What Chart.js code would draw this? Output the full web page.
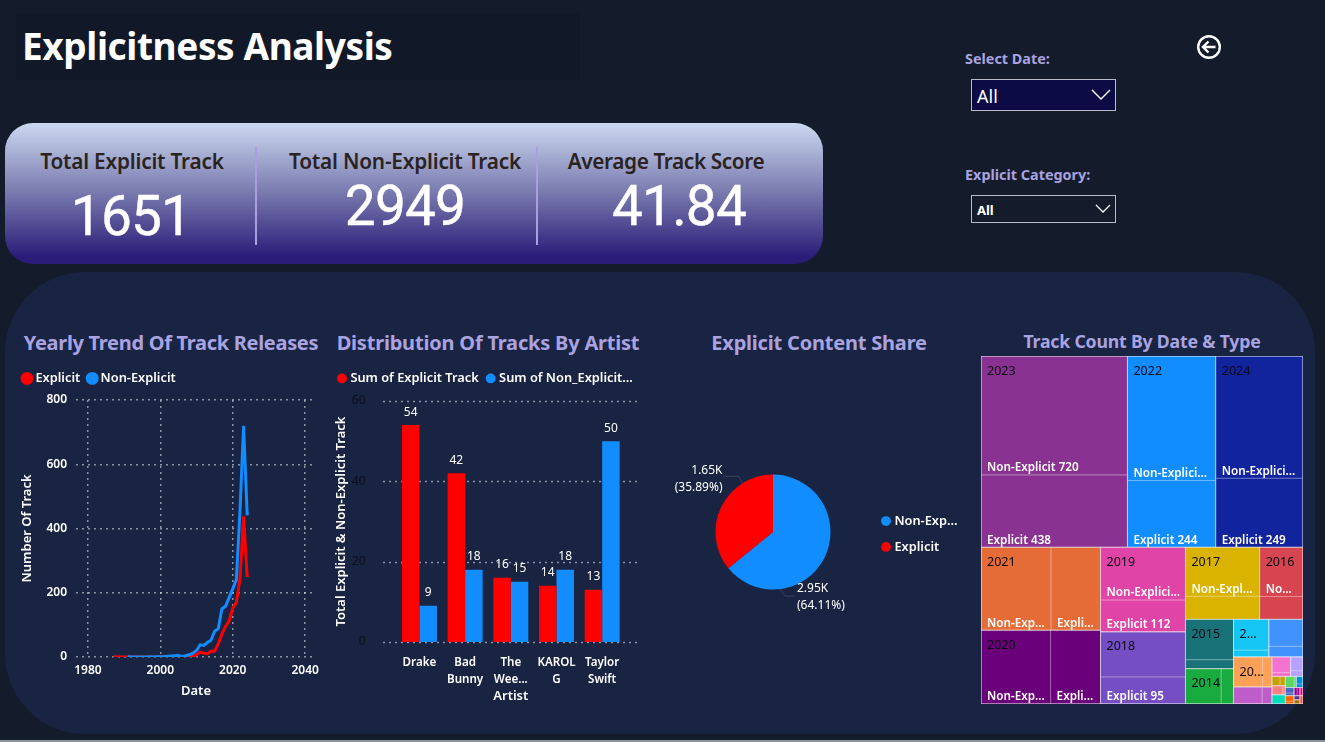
<!DOCTYPE html>
<html>
<head>
<meta charset="utf-8">
<title>Explicitness Analysis</title>
<script src="https://cdn.jsdelivr.net/npm/chart.js@4"></script>
<style>
    html, body { margin: 0; padding: 0; }
    body { width: 1325px; height: 742px; background: #141b2a; overflow: hidden; position: relative; font-family: 'Noto Sans', sans-serif; }
    .abs { position: absolute; }
    canvas.abs { display: block; }
    #titleBox { left: 16px; top: 13px; width: 564px; height: 67px; background: #111827; }
    #mainTitle { left: 22px; top: 21px; font: 700 37px/50px 'Noto Sans', sans-serif; color: #fff; white-space: nowrap; letter-spacing: -0.4px; }
    #kpiCard { left: 5px; top: 123px; width: 818px; height: 141px; border-radius: 28px; background: linear-gradient(#ccd9f0 0%, #7b7cb0 48%, #2a1c78 95%); }
    .sep { width: 2px; top: 147px; height: 98px; background: #a99fe0; }
    .kpiLabel { top: 147px; width: 300px; text-align: center; font: 600 20.8px/28px 'Noto Sans', sans-serif; color: #2a2322; white-space: nowrap; letter-spacing: -0.2px; }
    .kpiValue { width: 200px; text-align: center; font: 400 55px/60px Roboto, sans-serif; color: #fff; letter-spacing: -0.8px; -webkit-text-stroke: 0.4px #fff; }
    #panel { left: 5px; top: 272px; width: 1310px; height: 462px; border-radius: 80px; background: #192443; }
    #bottomEdge { left: 0; top: 740px; width: 1325px; height: 2px; background: #8f949c; }
    .heading { top: 328px; width: 340px; text-align: center; font: 700 20px/30px 'Noto Sans', sans-serif; color: #a9a3e0; white-space: nowrap; letter-spacing: -0.2px; }
    .slicerLabel { left: 965px; font: 700 14.4px/20px 'Noto Sans', sans-serif; color: #a9a3e0; white-space: nowrap; }
    .slicer { left: 971px; width: 143px; border: 1px solid #b9bcc6; color: #fff; }
    .slicer span { position: absolute; left: 5px; }
    .slicer svg { position: absolute; right: 4px; }
</style>
</head>
<body>
<div class="abs" id="titleBox"></div>
<div class="abs" id="mainTitle">Explicitness Analysis</div>

<div class="abs" id="kpiCard"></div>
<div class="abs sep" style="left:255px"></div>
<div class="abs sep" style="left:536px"></div>
<div class="abs kpiLabel" style="left:-18px">Total Explicit Track</div>
<div class="abs kpiLabel" style="left:255px">Total Non-Explicit Track</div>
<div class="abs kpiLabel" style="left:516px;letter-spacing:-0.4px">Average Track Score</div>
<div class="abs kpiValue" style="left:31px;top:186px">1651</div>
<div class="abs kpiValue" style="left:305px;top:176px">2949</div>
<div class="abs kpiValue" style="left:579px;top:176px">41.84</div>

<div class="abs slicerLabel" style="top:49px">Select Date:</div>
<div class="abs slicer" style="top:79px;height:30px;background:#0c0b45">
    <span style="font:400 18px/33px 'Noto Sans',sans-serif">All</span>
    <svg width="20" height="12" viewBox="0 0 20 12" style="top:9px"><path d="M1 1 L10 10 L19 1" fill="none" stroke="#fff" stroke-width="1.4"/></svg>
</div>
<div class="abs slicerLabel" style="top:165px">Explicit Category:</div>
<div class="abs slicer" style="top:195px;height:26px">
    <span style="font:700 13px/29px 'Noto Sans',sans-serif">All</span>
    <svg width="16" height="10" viewBox="0 0 16 10" style="top:8px;right:4px"><path d="M1 1 L8 8 L15 1" fill="none" stroke="#fff" stroke-width="1.3"/></svg>
</div>
<svg class="abs" style="left:1196px;top:34px" width="26" height="26" viewBox="0 0 26 26">
    <circle cx="13" cy="13" r="10.8" fill="none" stroke="#fff" stroke-width="2.4"/>
    <path d="M19.5 13 H7.5 M12.5 7.5 L7 13 L12.5 18.5" fill="none" stroke="#fff" stroke-width="2.4"/>
</svg>

<div class="abs" id="panel"></div>
<div class="abs" id="bottomEdge"></div>
<div class="abs heading" style="left:1px;letter-spacing:-0.3px">Yearly Trend Of Track Releases</div>
<div class="abs heading" style="left:318px">Distribution Of Tracks By Artist</div>
<div class="abs heading" style="left:649px">Explicit Content Share</div>
<div class="abs heading" style="left:972px;top:326px;font-size:17.7px">Track Count By Date &amp; Type</div>

<canvas class="abs" id="trendChart" width="315" height="343" style="left:15px;top:362px"></canvas>
<canvas class="abs" id="artistChart" width="329" height="343" style="left:330px;top:362px"></canvas>
<canvas class="abs" id="shareChart" width="303" height="304" style="left:668px;top:380px"></canvas>
<canvas class="abs" id="treeChart" width="322" height="348" style="left:981px;top:356px"></canvas>

<script>
const years = [1987, 1988, 1989, 1990, 1991, 1992, 1993, 1994, 1995, 1996, 1997, 1998, 1999, 2000, 2001, 2002, 2003, 2004, 2005, 2006, 2007, 2008, 2009, 2010, 2011, 2012, 2013, 2014, 2015, 2016, 2017, 2018, 2019, 2020, 2021, 2022, 2023, 2024];
const explicitByYear = [1, 0, 0, 0, 0, 0, 0, 0, 0, 0, 0, 0, 0, 1, 2, 1, 2, 1, 0, 1, 1, 3, 3, 7, 15, 12, 10, 18, 18, 41, 71, 95, 112, 152, 170, 244, 438, 249];
const nonExplicitByYear = [null, null, null, null, 1, 0, 0, 0, 0, 0, 1, 0, 1, 1, 1, 2, 3, 4, 5, 2, 4, 7, 12, 20, 38, 36, 45, 52, 80, 88, 150, 158, 185, 212, 240, 454, 720, 441];
const trendTicksX = [1980, 2000, 2020, 2040];

// Top artists
const artists = [['Drake'], ['Bad', 'Bunny'], ['The', 'Wee...'], ['KAROL', 'G'], ['Taylor', 'Swift']];
const artistExplicit = [54, 42, 16, 14, 13];
const artistNonExplicit = [9, 18, 15, 18, 50];

// Share
const shareLabels = ['Non-Exp...', 'Explicit'];
const shareValues = [2949, 1651];

// Treemap colours in rank order
const treePalette = ['#8A3291', '#118DFF', '#12239E', '#E66C37', '#6B007B', '#E044A7', '#744EC2', '#D9B300', '#D64550', '#197278', '#1AAB40', '#15C6F4', '#4092FF', '#FFA058', '#BE5DC9', '#F472D0', '#B5A1FF', '#C4A200', '#FF8080', '#00DBBC', '#5BD667', '#0091D5', '#4668C5', '#FF6300', '#99008A', '#EC008C', '#533285', '#99700A', '#FF4141'];

const RED = '#FF0000';
const BLUE = '#118DFF';
const GRID = 'rgba(255, 255, 255, 0.5)';
const FONT = "'Noto Sans', sans-serif";

Chart.defaults.font.family = FONT;
Chart.defaults.color = '#ffffff';
Chart.defaults.animation = false;
Chart.defaults.responsive = false;
Chart.defaults.devicePixelRatio = 1;
Chart.defaults.plugins.tooltip.enabled = false;

/**
 * Fix the legend box size so the plot areas land where they should
 */
const legendSize = {
    id: 'legendSize',
    beforeInit(chart, args, opts) {
        const fit = chart.legend.fit;
        chart.legend.fit = function() {
            fit.call(this);
            if (opts.height) this.height = opts.height;
            if (opts.width) this.width = opts.width;
        };
    },
    afterLayout(chart, args, opts) {
        if (opts.shiftY) {
            chart.legend.top += opts.shiftY;
            chart.legend.bottom += opts.shiftY;
        }
    }
};

function legendOptions(position, padding) {
    return {
        position: position,
        align: 'start',
        labels: {
            usePointStyle: true,
            pointStyle: 'circle',
            boxWidth: 4,
            boxHeight: 7,
            padding: padding,
            color: '#ffffff',
            font: { size: 12.8, weight: 600 }
        }
    };
}

/**
 * Line chart: releases per year
 */
new Chart(document.getElementById('trendChart'), {
    type: 'line',
    plugins: [legendSize],
    data: {
        labels: years,
        datasets: [
            { label: 'Non-Explicit', data: years.map((y, i) => ({ x: y, y: nonExplicitByYear[i] })), borderColor: BLUE, backgroundColor: BLUE, borderWidth: 3, pointRadius: 0 },
            { label: 'Explicit', data: years.map((y, i) => ({ x: y, y: explicitByYear[i] })), borderColor: RED, backgroundColor: RED, borderWidth: 3, pointRadius: 0 }
        ]
    },
    options: {
        layout: { padding: { right: 14 } },
        plugins: {
            legendSize: { height: 38 },
            legend: { ...legendOptions('top', 10), labels: { ...legendOptions('top', 10).labels, sort: (a, b) => b.datasetIndex - a.datasetIndex } }
        },
        scales: {
            x: {
                type: 'linear',
                min: 1976.7,
                max: 2043,
                afterBuildTicks: scale => { scale.ticks = trendTicksX.map(v => ({ value: v })); },
                afterFit: scale => { scale.height = 48; },
                grid: { color: GRID, lineWidth: 1.5, drawTicks: false },
                border: { display: false, dash: [2, 4] },
                ticks: { color: '#ffffff', padding: 6, maxRotation: 0, callback: v => String(v), font: { size: 12, weight: 600 } },
                title: { display: true, text: 'Date', color: '#ffffff', font: { size: 13, weight: 600 }, padding: { top: 0, bottom: 6 } }
            },
            y: {
                min: 0,
                max: 800,
                afterFit: scale => { scale.width = 61; },
                grid: { color: GRID, lineWidth: 1.5, drawTicks: false },
                border: { display: false, dash: [2, 4] },
                ticks: { color: '#ffffff', padding: 9, stepSize: 200, font: { size: 12, weight: 600 } },
                title: { display: true, text: 'Number Of Track', color: '#ffffff', font: { size: 13, weight: 600 }, padding: { top: 4, bottom: 0 } }
            }
        }
    }
});

/**
 * Extend the horizontal grid past the bars, and print the bar values
 */
const barExtras = {
    id: 'barExtras',
    beforeDatasetsDraw(chart) {
        const { ctx, chartArea, scales: { y } } = chart;
        ctx.save();
        ctx.strokeStyle = GRID;
        ctx.lineWidth = 1.5;
        ctx.setLineDash([2, 4]);
        y.ticks.forEach(t => {
            const py = Math.round(y.getPixelForValue(t.value)) + 0.5;
            ctx.beginPath();
            ctx.moveTo(chartArea.left - 13.6, py);
            ctx.lineTo(chartArea.right + 13, py);
            ctx.stroke();
        });
        ctx.restore();
    },
    afterDatasetsDraw(chart) {
        const { ctx } = chart;
        ctx.save();
        ctx.fillStyle = '#ffffff';
        ctx.font = '400 12px ' + FONT;
        ctx.textAlign = 'center';
        ctx.textBaseline = 'middle';
        chart.data.datasets.forEach((ds, i) => {
            chart.getDatasetMeta(i).data.forEach((bar, j) => {
                ctx.fillText(ds.data[j], bar.x, bar.y - 13);
            });
        });
        ctx.restore();
    }
};

/**
 * Clustered bars: top artists
 */
new Chart(document.getElementById('artistChart'), {
    type: 'bar',
    plugins: [legendSize, barExtras],
    data: {
        labels: artists,
        datasets: [
            { label: 'Sum of Explicit Track', data: artistExplicit, backgroundColor: RED },
            { label: 'Sum of Non_Explicit...', data: artistNonExplicit, backgroundColor: BLUE }
        ]
    },
    options: {
        plugins: {
            legendSize: { height: 39 },
            legend: legendOptions('top', 10)
        },
        datasets: { bar: { categoryPercentage: 0.766, barPercentage: 1 } },
        scales: {
            x: {
                afterFit: scale => { scale.height = 63; },
                grid: { display: false },
                border: { display: false },
                ticks: { color: '#ffffff', padding: 4, autoSkip: false, maxRotation: 0, font: { size: 11.6, weight: 600, lineHeight: 1.45 } },
                title: { display: true, text: 'Artist', color: '#ffffff', font: { size: 13, weight: 600 }, padding: { top: 0, bottom: 1 } }
            },
            y: {
                min: 0,
                max: 60,
                afterFit: scale => { scale.width = 66.6; },
                grid: { display: false },
                border: { display: false },
                ticks: { color: '#0b0f1a', padding: 23, stepSize: 20, font: { size: 12 } },
                title: { display: true, text: 'Total Explicit & Non-Explicit Track', color: '#ffffff', font: { size: 13, weight: 600 }, padding: { top: 3, bottom: 0 } }
            },
            // empty axis: keeps the room right of the bars while the legend may use it
            spacer: {
                position: 'right',
                afterFit: scale => { scale.width = 34; },
                grid: { display: false },
                border: { display: false },
                ticks: { display: false }
            }
        }
    }
});

/**
 * Callouts of the pie, with their leader lines
 */
const pieCallouts = {
    id: 'pieCallouts',
    afterDatasetsDraw(chart) {
        const { ctx } = chart;
        const arcs = chart.getDatasetMeta(0).data;
        const total = shareValues.reduce((a, b) => a + b, 0);
        ctx.save();
        ctx.font = '400 12px ' + FONT;
        ctx.fillStyle = '#ffffff';
        ctx.textBaseline = 'middle';
        ctx.strokeStyle = '#3d4459';
        ctx.lineWidth = 1;
        shareValues.forEach((v, i) => {
            const arc = arcs[i];
            const big = (v / 1000).toFixed(2) + 'K';
            const pct = '(' + (v / total * 100).toFixed(2) + '%)';
            const right = i === 0;
            // leaders leave the slice near the bottom for the first, near the top for the second
            const angle = (right ? 173 : 328) * Math.PI / 180;
            const ax = arc.x + Math.sin(angle) * arc.outerRadius;
            const ay = arc.y - Math.cos(angle) * arc.outerRadius;
            const ky = ay + (right ? 7 : -7);
            const kx = ax + (right ? 5 : -4);
            const ex = kx + (right ? 10 : -15);
            ctx.beginPath();
            ctx.moveTo(ax, ay);
            ctx.lineTo(kx, ky);
            ctx.lineTo(ex, ky);
            ctx.stroke();
            ctx.textAlign = right ? 'left' : 'right';
            const tx = ex + (right ? 2 : -1);
            ctx.fillText(big, tx, ky + (right ? -7 : -6));
            ctx.fillText(pct, tx, ky + (right ? 10 : 11));
        });
        ctx.restore();
    }
};

/**
 * Pie: explicit share
 */
new Chart(document.getElementById('shareChart'), {
    type: 'pie',
    plugins: [legendSize, pieCallouts],
    data: {
        labels: shareLabels,
        datasets: [{ data: shareValues, backgroundColor: [BLUE, RED], borderWidth: 0, radius: 57.5 }]
    },
    options: {
        layout: { padding: { left: 7 } },
        plugins: {
            legendSize: { width: 100, shiftY: 2 },
            legend: { ...legendOptions('right', 13), align: 'center' }
        }
    }
});

/**
 * Squarified layout with the golden ratio as target, like Power BI seems to use;
 * items must come sorted by value, rect is in scale units
 */
function squarify(items, rect) {
    const out = [];
    let { x, y, w, h } = rect;
    let remaining = items.reduce((a, it) => a + it.value, 0);
    const ratio = (1 + Math.sqrt(5)) / 2;
    let i = 0;
    while (i < items.length) {
        const alpha = Math.max(h / w, w / h) / (remaining * ratio);
        const score = (sum, lo, hi) => {
            const beta = sum * sum * alpha;
            return Math.max(hi / beta, beta / lo);
        };
        let end = i + 1;
        let sum = items[i].value;
        let lo = sum;
        let hi = sum;
        let best = score(sum, lo, hi);
        while (end < items.length) {
            const v = items[end].value;
            const next = score(sum + v, Math.min(lo, v), Math.max(hi, v));
            if (next > best) break;
            best = next;
            sum += v;
            lo = Math.min(lo, v);
            hi = Math.max(hi, v);
            end++;
        }
        const row = items.slice(i, end);
        if (w < h) {
            const rowH = h * sum / remaining;
            let cx = x;
            row.forEach(it => { const cw = w * it.value / sum; out.push({ item: it, x: cx, y: y, w: cw, h: rowH }); cx += cw; });
            y += rowH;
            h -= rowH;
        } else {
            const rowW = w * sum / remaining;
            let cy = y;
            row.forEach(it => { const ch = h * it.value / sum; out.push({ item: it, x: x, y: cy, w: rowW, h: ch }); cy += ch; });
            x += rowW;
            w -= rowW;
        }
        remaining -= sum;
        i = end;
    }
    return out;
}

function fitLabel(ctx, text, maxWidth) {
    if (ctx.measureText(text).width <= maxWidth) return text;
    let n = text.length - 1;
    while (n > 0 && ctx.measureText(text.slice(0, n) + '...').width > maxWidth) n--;
    return text.slice(0, n) + '...';
}

/**
 * Treemap: no treemap element in Chart.js core, so cells are painted here through the chart's scales
 */
const treemap = {
    id: 'treemap',
    afterDatasetsDraw(chart) {
        const { ctx, scales: { x, y } } = chart;
        const groups = years
            .map((year, i) => ({ year: year, non: nonExplicitByYear[i] || 0, exp: explicitByYear[i] || 0 }))
            .map(g => ({ ...g, value: g.non + g.exp }))
            .filter(g => g.value > 0)
            .sort((a, b) => b.value - a.value);
        const pix = c => {
            const left = x.getPixelForValue(c.x);
            const top = y.getPixelForValue(c.y);
            return { x: left, y: top, w: x.getPixelForValue(c.x + c.w) - left, h: y.getPixelForValue(c.y + c.h) - top };
        };
        ctx.save();
        squarify(groups, { x: 0, y: 0, w: x.max, h: y.max }).forEach((cell, i) => {
            const g = cell.item;
            const box = pix(cell);
            ctx.fillStyle = treePalette[i % treePalette.length];
            ctx.fillRect(box.x, box.y, box.w, box.h);

            const children = [{ name: 'Non-Explicit', value: g.non }, { name: 'Explicit', value: g.exp }]
                .filter(c => c.value > 0)
                .sort((a, b) => b.value - a.value);
            const parts = squarify(children, cell).map(c => ({ ...pix(c), name: c.item.name, value: c.item.value }));

            ctx.lineWidth = 1;
            ctx.strokeStyle = 'rgba(255, 255, 255, 0.22)';
            parts.forEach(p => ctx.strokeRect(p.x, p.y, p.w, p.h));
            ctx.strokeStyle = 'rgba(255, 255, 255, 0.45)';
            ctx.strokeRect(box.x, box.y, box.w, box.h);

            ctx.textBaseline = 'middle';
            ctx.textAlign = 'left';
            if (box.w >= 35 && box.h >= 25) {
                ctx.font = '400 12.5px ' + FONT;
                ctx.fillStyle = '#0a0a14';
                ctx.fillText(fitLabel(ctx, String(g.year), box.w - 12), box.x + 6, box.y + 15);
            }
            ctx.font = '600 11.7px ' + FONT;
            ctx.fillStyle = '#ffffff';
            parts.forEach(p => {
                // cells on the top edge also have to leave room for the year
                const needH = p.y - box.y < 1 ? 47 : 25;
                if (p.w >= 30 && p.h >= needH) {
                    ctx.fillText(fitLabel(ctx, p.name + ' ' + p.value, p.w - 11), p.x + 6, p.y + p.h - 7);
                }
            });
        });
        ctx.strokeStyle = 'rgba(255, 255, 255, 0.5)';
        ctx.strokeRect(x.left, y.top, x.right - x.left, y.bottom - y.top);
        ctx.restore();
    }
};

new Chart(document.getElementById('treeChart'), {
    type: 'scatter',
    plugins: [treemap],
    data: { datasets: [{ data: [] }] },
    options: {
        layout: { padding: 0 },
        plugins: { legend: { display: false } },
        scales: {
            x: { display: false, min: 0, max: 322 },
            y: { display: false, min: 0, max: 348, reverse: true }
        }
    }
});
</script>
</body>
</html>
